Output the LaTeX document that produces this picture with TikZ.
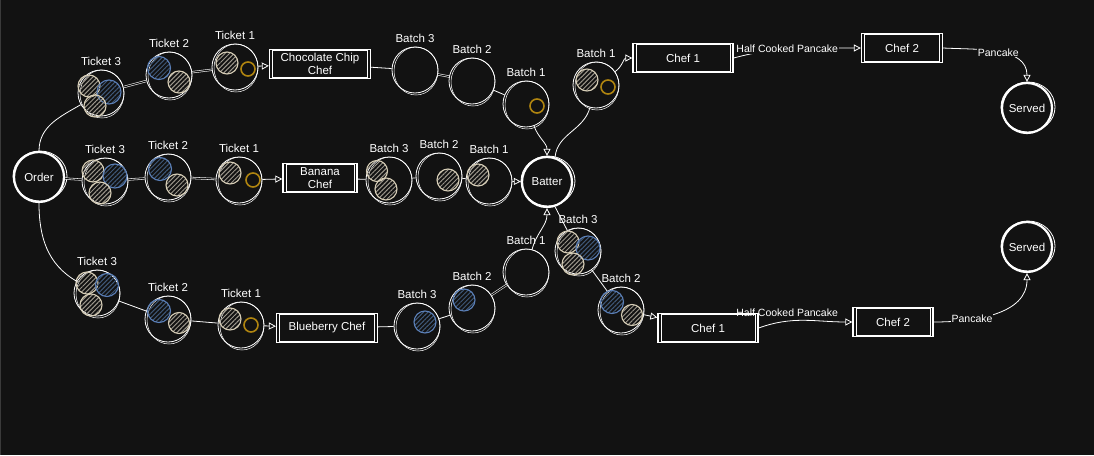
\documentclass[tikz,border=0pt]{standalone}
\usepackage{fontspec}
\setmainfont{Liberation Sans}
\usetikzlibrary{patterns.meta,arrows.meta}
\definecolor{bg}{HTML}{121212}
\definecolor{beige}{HTML}{D6CDB6}
\definecolor{hatchb}{HTML}{9C978C}
\definecolor{blu}{HTML}{5B80B8}
\definecolor{hatchu}{HTML}{3F5878}
\definecolor{gold}{HTML}{B08510}
\definecolor{edgec}{HTML}{3A3A3A}
\tikzset{
  every node/.style={text=white},
  bub/.style={circle, draw=white, line width=0.8pt, minimum size=46pt, inner sep=0pt},
  bigbub/.style={circle, draw=white, line width=2.2pt, minimum size=50pt, inner sep=0pt, font=\fontsize{11.5}{14}\selectfont},
  chef/.style={draw=white, line width=1.3pt, minimum height=29pt, align=center, inner sep=1pt, font=\fontsize{11.5}{13}\selectfont},
  lbl/.style={inner sep=1pt, font=\fontsize{11.5}{14}\selectfont},
  elbl/.style={inner sep=1pt, fill=bg, font=\fontsize{10.5}{12}\selectfont},
  conn/.style={draw=white, line width=0.8pt},
  dconn/.style={draw=white, line width=0.55pt, double=bg, double distance=1.1pt},
  arr/.style={conn, -{Triangle[open, length=7pt, width=7pt]}},
  blob/.style={circle, inner sep=0pt, draw=#1, line width=1.1pt},
  bblob/.style={blob=beige, pattern={Lines[angle=45, distance=3.2pt, line width=1pt]}, pattern color=hatchb},
  ublob/.style={blob=blu, pattern={Lines[angle=45, distance=3.2pt, line width=1pt]}, pattern color=hatchu},
  gblob/.style={circle, minimum size=14pt, inner sep=0pt, draw=gold, line width=1.6pt},
  sk/.style={white, line width=0.5pt},
}
\newcommand\bubble[4]{%
  \node[bub] (#1) at (#2,-#3) {};
  \draw[sk] ([shift={(1,-1)}]#1.center) ellipse [x radius=22pt, y radius=24pt];
  \node[lbl] at ([yshift=32pt]#1.center) {#4};}
\newcommand\bigring[4]{%
  \node[bigbub] (#1) at (#2,-#3) {#4};
  \draw[sk, line width=0.8pt] ([shift={(1,1)}]#1.center) ellipse [x radius=27pt, y radius=25pt];}
\newcommand\chefbox[5]{%
  \node[chef, minimum width=#4pt] (#1) at (#2,-#3) {#5};
  \draw[sk, line width=0.7pt] ([shift={(3.5,-1.5)}]#1.north west) rectangle ([shift={(-3.5,1.5)}]#1.south east);}
\newcommand\blobat[5]{\node[#1, minimum size=#5pt] at ([shift={(#3,#4)}]#2.center) {};}
\newcommand\goldat[3]{\node[gblob] at ([shift={(#2,#3)}]#1.center) {};}
\begin{document}
\begin{tikzpicture}[x=1pt,y=1pt]
\fill[bg] (0,0) rectangle (1094,-455);
\useasboundingbox (0,0) rectangle (1094,-455);
\draw[edgec, line width=1pt] (0.5,0) -- (0.5,-455);

% Order
\bigring{o}{39}{177}{Order}

% top row
\bubble{ta3}{101}{93}{Ticket 3}
\bubble{ta2}{169}{75}{Ticket 2}
\bubble{ta1}{235}{67}{Ticket 1}
\chefbox{cc}{320}{64}{101}{Chocolate Chip\\Chef}
\bubble{ba3}{415}{70}{Batch 3}
\bubble{ba2}{472}{81}{Batch 2}
\bubble{ba1}{526}{104}{Batch 1}

% middle row
\bubble{tb3}{105}{181}{Ticket 3}
\bubble{tb2}{168}{177}{Ticket 2}
\bubble{tb1}{239}{180}{Ticket 1}
\chefbox{bc}{320}{178}{74}{Banana\\Chef}
\bubble{bb3}{389}{180}{Batch 3}
\bubble{bb2}{439}{176}{Batch 2}
\bubble{bb1}{489}{181}{Batch 1}

% bottom row
\bubble{tc3}{97}{293}{Ticket 3}
\bubble{tc2}{168}{319}{Ticket 2}
\bubble{tc1}{241}{325}{Ticket 1}
\chefbox{blc}{327}{328}{101}{Blueberry Chef}
\bubble{bc3}{417}{326}{Batch 3}
\bubble{bc2}{472}{308}{Batch 2}
\bubble{bc1}{526}{272}{Batch 1}

% batter
\bigring{bat}{547}{182}{Batter}

% right top
\bubble{rt1}{596}{85}{Batch 1}
\chefbox{c1a}{683}{58}{100}{Chef 1}
\chefbox{c2a}{902}{48}{81}{Chef 2}
\bigring{sa}{1027}{108}{Served}

% right bottom
\bubble{rb3}{578}{251}{Batch 3}
\bubble{rb2}{621}{310}{Batch 2}
\chefbox{c1b}{708}{328}{100}{Chef 1}
\chefbox{c2b}{893}{322}{80}{Chef 2}
\bigring{sb}{1027}{247}{Served}

% blobs: top row
\blobat{bblob}{ta3}{-12}{7}{22}
\blobat{ublob}{ta3}{8}{1}{24}
\blobat{bblob}{ta3}{-6}{-13}{22}
\blobat{ublob}{ta2}{-10}{7}{23}
\blobat{bblob}{ta2}{10}{-7}{22}
\blobat{bblob}{ta1}{-8}{4}{22}
\goldat{ta1}{13}{-2}
\goldat{ba1}{11}{-2}

% blobs: middle row
\blobat{bblob}{tb3}{-12}{10}{22}
\blobat{ublob}{tb3}{10}{5}{24}
\blobat{bblob}{tb3}{-5}{-12}{22}
\blobat{ublob}{tb2}{-8}{8}{23}
\blobat{bblob}{tb2}{9}{-8}{22}
\blobat{bblob}{tb1}{-9}{7}{22}
\goldat{tb1}{14}{0}
\blobat{bblob}{bb3}{-12}{9}{21}
\blobat{bblob}{bb3}{-3}{-9}{22}
\blobat{bblob}{bb2}{9}{-4}{22}
\blobat{bblob}{bb1}{-11}{6}{22}

% blobs: bottom row
\blobat{bblob}{tc3}{-10}{10}{22}
\blobat{ublob}{tc3}{10}{8}{23}
\blobat{bblob}{tc3}{-6}{-12}{22}
\blobat{ublob}{tc2}{-9}{8}{23}
\blobat{bblob}{tc2}{11}{-4}{21}
\blobat{bblob}{tc1}{-11}{6}{22}
\goldat{tc1}{10}{0}
\blobat{ublob}{bc3}{8}{4}{22}
\blobat{ublob}{bc2}{-8}{8}{22}

% blobs: right
\blobat{bblob}{rt1}{-9}{5}{22}
\goldat{rt1}{12}{-2}
\blobat{bblob}{rb3}{-10}{9}{22}
\blobat{ublob}{rb3}{10}{3}{24}
\blobat{bblob}{rb3}{-5}{-13}{22}
\blobat{ublob}{rb2}{-9}{8}{23}
\blobat{bblob}{rb2}{11}{-5}{21}

% connectors from order
\draw[conn] (o) to[out=90,in=210] (ta3);
\draw[dconn] (o) -- (tb3);
\draw[conn] (o) to[out=-90,in=150] (tc3);

% top row connectors
\draw[dconn] (ta3) -- (ta2);
\draw[dconn] (ta2) -- (ta1);
\draw[arr] (ta1) -- (cc);
\draw[conn] (cc) -- (ba3);
\draw[dconn] (ba3) -- (ba2);
\draw[conn] (ba2) -- (ba1);
\draw[arr] (ba1) to[out=-70,in=90] (bat);

% middle row connectors
\draw[dconn] (tb3) -- (tb2);
\draw[dconn] (tb2) -- (tb1);
\draw[arr] (tb1) -- (bc);
\draw[conn] (bc) -- (bb3);
\draw[conn] (bb3) -- (bb2);
\draw[conn] (bb2) -- (bb1);
\draw[arr] (bb1) -- (bat);

% bottom row connectors
\draw[conn] (tc3) -- (tc2);
\draw[conn] (tc2) -- (tc1);
\draw[arr] (tc1) -- (blc);
\draw[conn] (blc) -- (bc3);
\draw[conn] (bc3) -- (bc2);
\draw[dconn] (bc2) -- (bc1);
\draw[arr] (bc1) to[out=75,in=-90] (bat);

% right top connectors
\draw[conn] (bat.72) to[out=85,in=-105] (rt1);
\draw[arr] (rt1) to[out=35,in=180] (c1a);
\draw[arr] (c1a.east) to[out=15,in=180] node[elbl, pos=0.42] {Half Cooked Pancake} (c2a.west);
\draw[arr] (c2a.east) to[out=-3,in=90] node[elbl, pos=0.5] {Pancake} (sa.north);

% right bottom connectors
\draw[conn] (bat.-72) -- (rb3);
\draw[conn] (rb3) -- (rb2);
\draw[arr] (rb2) -- (c1b);
\draw[arr] (c1b.east) to[out=20,in=180] node[elbl, fill=none, pos=0.3, above=3pt] {Half Cooked Pancake} (c2b.west);
\draw[arr] (c2b.east) to[out=0,in=-90] node[elbl, pos=0.3] {Pancake} (sb.south);
\end{tikzpicture}
\end{document}
